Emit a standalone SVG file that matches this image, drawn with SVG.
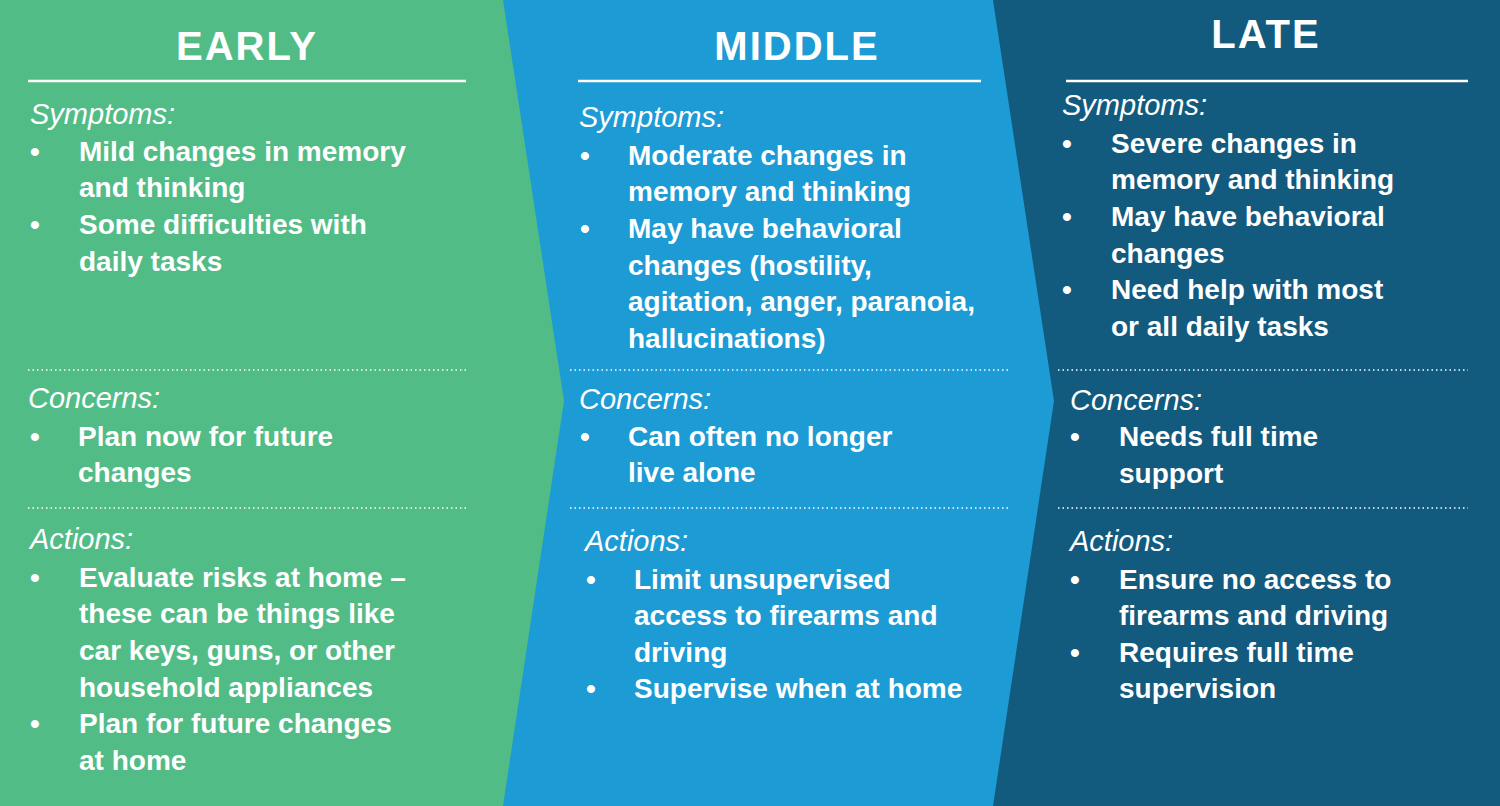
<svg xmlns="http://www.w3.org/2000/svg" width="1500" height="806" viewBox="0 0 1500 806">
<style>
text{font-family:"Liberation Sans",Arial,sans-serif;fill:#fff}
.h{font-size:40px;font-weight:bold;text-anchor:middle;letter-spacing:2px}
.l{font-size:29px;font-style:italic}
.b{font-size:28px;font-weight:bold}
.rule{stroke:#fff;stroke-width:2.5}
.dot{stroke:#fff;stroke-width:1.5;stroke-dasharray:1.5 3}
</style>
<rect x="0" y="0" width="1500" height="806" fill="#125A7E"/>
<polygon points="0,0 993,0 1054,401 993,806 0,806" fill="#1C9BD4"/>
<polygon points="0,0 503,0 564,401 503,806 0,806" fill="#52BC87"/>
<g id="early">
<text class="h" x="247" y="60">EARLY</text>
<line class="rule" x1="28" y1="81" x2="466" y2="81"/>
<text class="l" x="30" y="124">Symptoms:</text>
<text class="b" x="30" y="161">•</text><text class="b" x="79" y="161">Mild changes in memory</text>
<text class="b" x="79" y="197">and thinking</text>
<text class="b" x="30" y="234">•</text><text class="b" x="79" y="234">Some difficulties with</text>
<text class="b" x="79" y="271">daily tasks</text>
<line class="dot" x1="28" y1="370" x2="466" y2="370"/>
<text class="l" x="28" y="408">Concerns:</text>
<text class="b" x="30" y="446">•</text><text class="b" x="78" y="446">Plan now for future</text>
<text class="b" x="78" y="482">changes</text>
<line class="dot" x1="28" y1="508" x2="466" y2="508"/>
<text class="l" x="30" y="549">Actions:</text>
<text class="b" x="30" y="587">•</text><text class="b" x="79" y="587">Evaluate risks at home –</text>
<text class="b" x="79" y="623">these can be things like</text>
<text class="b" x="79" y="660">car keys, guns, or other</text>
<text class="b" x="79" y="697">household appliances</text>
<text class="b" x="30" y="733">•</text><text class="b" x="79" y="733">Plan for future changes</text>
<text class="b" x="79" y="770">at home</text>
</g>
<g id="middle">
<text class="h" x="797" y="60">MIDDLE</text>
<line class="rule" x1="578" y1="81" x2="981" y2="81"/>
<text class="l" x="579" y="127">Symptoms:</text>
<text class="b" x="580" y="165">•</text><text class="b" x="628" y="165">Moderate changes in</text>
<text class="b" x="628" y="201">memory and thinking</text>
<text class="b" x="580" y="238">•</text><text class="b" x="628" y="238">May have behavioral</text>
<text class="b" x="628" y="275">changes (hostility,</text>
<text class="b" x="628" y="311">agitation, anger, paranoia,</text>
<text class="b" x="628" y="348">hallucinations)</text>
<line class="dot" x1="570" y1="370" x2="1010" y2="370"/>
<text class="l" x="579" y="409">Concerns:</text>
<text class="b" x="580" y="446">•</text><text class="b" x="628" y="446">Can often no longer</text>
<text class="b" x="628" y="482">live alone</text>
<line class="dot" x1="570" y1="508" x2="1010" y2="508"/>
<text class="l" x="585" y="551">Actions:</text>
<text class="b" x="586" y="589">•</text><text class="b" x="634" y="589">Limit unsupervised</text>
<text class="b" x="634" y="625">access to firearms and</text>
<text class="b" x="634" y="662">driving</text>
<text class="b" x="586" y="698">•</text><text class="b" x="634" y="698">Supervise when at home</text>
</g>
<g id="late">
<text class="h" x="1266" y="48">LATE</text>
<line class="rule" x1="1066" y1="81" x2="1468" y2="81"/>
<text class="l" x="1062" y="115">Symptoms:</text>
<text class="b" x="1062" y="153">•</text><text class="b" x="1111" y="153">Severe changes in</text>
<text class="b" x="1111" y="189">memory and thinking</text>
<text class="b" x="1062" y="226">•</text><text class="b" x="1111" y="226">May have behavioral</text>
<text class="b" x="1111" y="263">changes</text>
<text class="b" x="1062" y="299">•</text><text class="b" x="1111" y="299">Need help with most</text>
<text class="b" x="1111" y="336">or all daily tasks</text>
<line class="dot" x1="1058" y1="370" x2="1468" y2="370"/>
<text class="l" x="1070" y="410">Concerns:</text>
<text class="b" x="1070" y="446">•</text><text class="b" x="1119" y="446">Needs full time</text>
<text class="b" x="1119" y="483">support</text>
<line class="dot" x1="1058" y1="508" x2="1468" y2="508"/>
<text class="l" x="1070" y="551">Actions:</text>
<text class="b" x="1070" y="589">•</text><text class="b" x="1119" y="589">Ensure no access to</text>
<text class="b" x="1119" y="625">firearms and driving</text>
<text class="b" x="1070" y="662">•</text><text class="b" x="1119" y="662">Requires full time</text>
<text class="b" x="1119" y="698">supervision</text>
</g>
<g id="connectors"></g>
</svg>
